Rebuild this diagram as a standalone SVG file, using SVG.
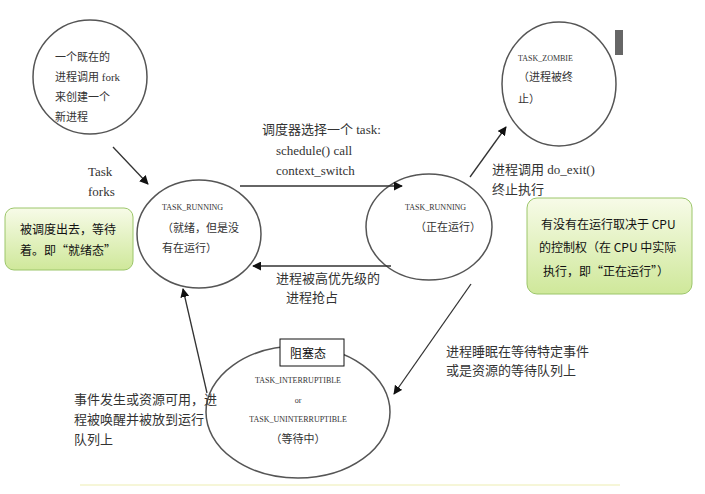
<svg xmlns="http://www.w3.org/2000/svg" width="705" height="494" viewBox="0 0 705 494">
<defs>
<marker id="ah" viewBox="0 0 10 10" refX="9" refY="5" markerWidth="9" markerHeight="9" orient="auto" markerUnits="userSpaceOnUse"><path d="M0,0 L10,5 L0,10 z" fill="#111"/></marker>
<linearGradient id="g" x1="0" y1="0" x2="0" y2="1"><stop offset="0" stop-color="#f7fbe8"/><stop offset="1" stop-color="#cfe89a"/></linearGradient>
</defs>
<style>
.n{fill:#fff;stroke:#555;stroke-width:1.5}
.c{stroke:#333;stroke-width:1.3;fill:none;marker-end:url(#ah)}
text{font-family:"Liberation Serif","Noto Sans CJK SC",serif;fill:#333}
.s{font-size:13px}.t{font-size:8px}.z{font-size:11px}
.b{fill:url(#g);stroke:#9cc66a;stroke-width:1}
.k{font-family:"Noto Sans CJK SC",sans-serif;font-size:12px;fill:#111}
</style>
<rect width="705" height="494" fill="#fff"/>
<rect x="615" y="30" width="8" height="25" fill="#666"/>
<g id="fork"><circle class="n" cx="90" cy="77" r="57"/>
<text class="z" x="55" y="61">一个既在的</text><text class="z" x="55" y="81">进程调用 fork</text><text class="z" x="55" y="101">来创建一个</text><text class="z" x="55" y="121">新进程</text></g>
<g id="ready"><ellipse class="n" cx="199" cy="234" rx="62" ry="54"/>
<text class="t" x="162" y="210">TASK_RUNNING</text><text class="z" x="162" y="232">（就绪，但是没</text><text class="z" x="162" y="252">有在运行）</text></g>
<g id="running"><ellipse class="n" cx="429" cy="227" rx="63" ry="53"/>
<text class="t" x="405" y="210">TASK_RUNNING</text><text class="z" x="415" y="231">（正在运行）</text></g>
<g id="zombie"><ellipse class="n" cx="559" cy="84" rx="57" ry="62"/>
<text class="t" x="518" y="61">TASK_ZOMBIE</text><text class="z" x="518" y="81">（进程被终</text><text class="z" x="518" y="103">止）</text></g>
<g id="waiting"><ellipse class="n" cx="298" cy="412" rx="92" ry="66"/>
<text class="t" x="298" y="383" text-anchor="middle">TASK_INTERRUPTIBLE</text><text class="t" x="298" y="403" text-anchor="middle">or</text><text class="t" x="298" y="422" text-anchor="middle">TASK_UNINTERRUPTIBLE</text><text class="z" x="298" y="443" text-anchor="middle">（等待中）</text></g>
<g id="connectors">
<line class="c" x1="113" y1="147" x2="148" y2="184"/>
<line class="c" x1="240" y1="186" x2="402" y2="186"/>
<line class="c" x1="391" y1="266" x2="253" y2="266"/>
<line class="c" x1="470" y1="177" x2="506" y2="127"/>
<line class="c" x1="471" y1="284" x2="394" y2="394"/>
<line class="c" x1="207" y1="393" x2="183" y2="289"/>
</g>
<g id="labels">
<text class="s" x="88" y="176">Task</text><text class="s" x="88" y="196">forks</text>
<text class="s" x="262" y="134">调度器选择一个 task:</text><text class="s" x="276" y="155">schedule() call</text><text class="s" x="276" y="175">context_switch</text>
<text class="s" x="276" y="283">进程被高优先级的</text><text class="s" x="286" y="302">进程抢占</text>
<text class="s" x="492" y="174">进程调用 do_exit()</text><text class="s" x="492" y="194">终止执行</text>
<text class="s" x="446" y="356">进程睡眠在等待特定事件</text><text class="s" x="446" y="375">或是资源的等待队列上</text>
<text class="s" x="74" y="404">事件发生或资源可用，进</text><text class="s" x="74" y="424">程被唤醒并被放到运行</text><text class="s" x="74" y="444">队列上</text>
</g>
<g id="note-left"><rect class="b" x="5" y="208" width="128" height="62" rx="9"/>
<text class="k" x="20" y="234">被调度出去，等待</text><text class="k" x="20" y="255">着。即“就绪态”</text></g>
<g id="note-right"><rect class="b" x="527" y="198" width="165" height="96" rx="10"/>
<text class="k" x="541" y="229">有没有在运行取决于 CPU</text><text class="k" x="539" y="252">的控制权（在 CPU 中实际</text><text class="k" x="543" y="276">执行，即“正在运行”）</text></g>
<g id="blocked-label"><rect x="280" y="339" width="64" height="27" fill="#fff" stroke="#111" stroke-width="1"/>
<text class="k" x="290" y="358" font-size="13">阻塞态</text></g>
<line x1="80" y1="485" x2="620" y2="485" stroke="#f6f6d8" stroke-width="2"/>
</svg>
